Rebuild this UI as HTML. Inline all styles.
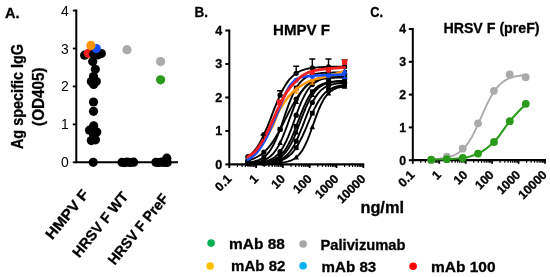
<!DOCTYPE html>
<html><head><meta charset="utf-8"><title>Figure</title>
<style>html,body{margin:0;padding:0;background:#fff}svg{display:block}</style></head>
<body><svg width="550" height="277" viewBox="0 0 550 277" font-family="'Liberation Sans', sans-serif">
<rect width="550" height="277" fill="#fff"/>
<g stroke="#000" stroke-width="2" fill="none" stroke-linecap="butt">
<path d="M76.3 9.580000000000013 V162.3 H178"/>
<path d="M72.8 162.3 H76.3" stroke-width="1.8"/>
<path d="M72.8 124.37 H76.3" stroke-width="1.8"/>
<path d="M72.8 86.44000000000001 H76.3" stroke-width="1.8"/>
<path d="M72.8 48.51000000000002 H76.3" stroke-width="1.8"/>
<path d="M72.8 10.580000000000013 H76.3" stroke-width="1.8"/>
</g>
<text x="68.7" y="167.3" font-size="13.9" font-weight="normal" text-anchor="end" fill="#000">0</text>
<text x="68.7" y="129.37" font-size="13.9" font-weight="normal" text-anchor="end" fill="#000">1</text>
<text x="68.7" y="91.44000000000001" font-size="13.9" font-weight="normal" text-anchor="end" fill="#000">2</text>
<text x="68.7" y="53.51000000000002" font-size="13.9" font-weight="normal" text-anchor="end" fill="#000">3</text>
<text x="68.7" y="15.580000000000013" font-size="13.9" font-weight="normal" text-anchor="end" fill="#000">4</text>
<text x="5" y="17.6" font-size="15.4" font-weight="bold" text-anchor="start" fill="#000" stroke="#000" stroke-width="0.3" textLength="14.5" lengthAdjust="spacingAndGlyphs">A.</text>
<text x="22.8" y="96.5" font-size="15.6" font-weight="bold" text-anchor="middle" fill="#000" stroke="#000" stroke-width="0.3" transform="rotate(-90 22.8 96.5)" textLength="105.2" lengthAdjust="spacingAndGlyphs">Ag specific IgG</text>
<text x="44.5" y="96.6" font-size="15.6" font-weight="bold" text-anchor="middle" fill="#000" stroke="#000" stroke-width="0.3" transform="rotate(-90 44.5 96.6)" textLength="58.6" lengthAdjust="spacingAndGlyphs">(OD405)</text>
<text x="89.5" y="194.5" font-size="14.6" font-weight="bold" text-anchor="end" fill="#000" stroke="#000" stroke-width="0.3" transform="rotate(-51 89.5 194.5)" textLength="59" lengthAdjust="spacingAndGlyphs">HMPV F</text>
<text x="129" y="197" font-size="14.6" font-weight="bold" text-anchor="end" fill="#000" stroke="#000" stroke-width="0.3" transform="rotate(-51 129 197)" textLength="79" lengthAdjust="spacingAndGlyphs">HRSV F WT</text>
<text x="169.2" y="198.7" font-size="14.6" font-weight="bold" text-anchor="end" fill="#000" stroke="#000" stroke-width="0.3" transform="rotate(-51 169.2 198.7)" textLength="86.3" lengthAdjust="spacingAndGlyphs">HRSV F PreF</text>
<circle cx="84.6" cy="55.2" r="4.6" fill="#000"/>
<circle cx="88.4" cy="53.3" r="4.6" fill="#F51E1E"/>
<circle cx="101.3" cy="53.6" r="4.6" fill="#000"/>
<circle cx="93.7" cy="54.3" r="4.6" fill="#000"/>
<circle cx="97.5" cy="55" r="4.6" fill="#000"/>
<circle cx="92.7" cy="61.5" r="4.6" fill="#000"/>
<circle cx="95.3" cy="69.3" r="4.6" fill="#000"/>
<circle cx="93.5" cy="76.5" r="4.6" fill="#000"/>
<circle cx="91.3" cy="81.5" r="4.6" fill="#000"/>
<circle cx="96.3" cy="81.5" r="4.6" fill="#000"/>
<circle cx="93.7" cy="84.5" r="4.6" fill="#000"/>
<circle cx="93.5" cy="102" r="4.6" fill="#000"/>
<circle cx="93.5" cy="111.3" r="4.6" fill="#000"/>
<circle cx="93.7" cy="125.8" r="4.6" fill="#000"/>
<circle cx="89.5" cy="130.2" r="4.6" fill="#000"/>
<circle cx="96.8" cy="132" r="4.6" fill="#000"/>
<circle cx="93.6" cy="135.5" r="4.6" fill="#000"/>
<circle cx="91.3" cy="140.6" r="4.6" fill="#000"/>
<circle cx="95.5" cy="139.8" r="4.6" fill="#000"/>
<circle cx="93.2" cy="162.3" r="4.6" fill="#000"/>
<circle cx="96.3" cy="48.6" r="4.6" fill="#1450FF"/>
<circle cx="90.9" cy="45.4" r="4.6" fill="#FF9500"/>
<circle cx="122" cy="162.3" r="4.6" fill="#000"/>
<circle cx="124.5" cy="162.6" r="4.6" fill="#000"/>
<circle cx="127.2" cy="162.2" r="4.6" fill="#000"/>
<circle cx="130.3" cy="162.5" r="4.6" fill="#000"/>
<circle cx="133.6" cy="162.2" r="4.6" fill="#000"/>
<circle cx="155.9" cy="162.3" r="4.6" fill="#000"/>
<circle cx="158.6" cy="162.5" r="4.6" fill="#000"/>
<circle cx="161.5" cy="162.2" r="4.6" fill="#000"/>
<circle cx="164.5" cy="162.5" r="4.6" fill="#000"/>
<circle cx="167.2" cy="162.4" r="4.6" fill="#000"/>
<circle cx="166.8" cy="158.2" r="4.6" fill="#000"/>
<circle cx="127" cy="49.7" r="4.6" fill="#ABABAB"/>
<circle cx="160.6" cy="61.6" r="4.6" fill="#ABABAB"/>
<circle cx="160.6" cy="79.8" r="4.6" fill="#2A9A1A"/>
<g stroke="#000" stroke-width="2" fill="none">
<path d="M229.3 29.52000000000001 V165.4"/>
<path d="M225.3 164.4 H229.3"/>
<path d="M225.3 130.93 H229.3"/>
<path d="M225.3 97.46000000000001 H229.3"/>
<path d="M225.3 63.99000000000001 H229.3"/>
<path d="M225.3 30.52000000000001 H229.3"/>
</g>
<g stroke="#000" stroke-width="2.3" fill="none">
<path d="M228.3 164.4 H364.3"/>
</g>
<g stroke="#000" stroke-width="1" fill="none">
<path d="M229.3 164.4 v3.6" stroke-width="1.8"/>
<path d="M237.4 164.4 v2.5" stroke-width="1.2"/>
<path d="M242.1 164.4 v2.5" stroke-width="1.2"/>
<path d="M245.4 164.4 v2.5" stroke-width="1.2"/>
<path d="M248.0 164.4 v2.5" stroke-width="1.2"/>
<path d="M250.2 164.4 v2.5" stroke-width="1.2"/>
<path d="M251.9 164.4 v2.5" stroke-width="1.2"/>
<path d="M253.5 164.4 v2.5" stroke-width="1.2"/>
<path d="M254.9 164.4 v2.5" stroke-width="1.2"/>
<path d="M256.1 164.4 v3.6" stroke-width="1.8"/>
<path d="M264.2 164.4 v2.5" stroke-width="1.2"/>
<path d="M268.9 164.4 v2.5" stroke-width="1.2"/>
<path d="M272.2 164.4 v2.5" stroke-width="1.2"/>
<path d="M274.8 164.4 v2.5" stroke-width="1.2"/>
<path d="M277.0 164.4 v2.5" stroke-width="1.2"/>
<path d="M278.7 164.4 v2.5" stroke-width="1.2"/>
<path d="M280.3 164.4 v2.5" stroke-width="1.2"/>
<path d="M281.7 164.4 v2.5" stroke-width="1.2"/>
<path d="M282.9 164.4 v3.6" stroke-width="1.8"/>
<path d="M291.0 164.4 v2.5" stroke-width="1.2"/>
<path d="M295.7 164.4 v2.5" stroke-width="1.2"/>
<path d="M299.0 164.4 v2.5" stroke-width="1.2"/>
<path d="M301.6 164.4 v2.5" stroke-width="1.2"/>
<path d="M303.8 164.4 v2.5" stroke-width="1.2"/>
<path d="M305.5 164.4 v2.5" stroke-width="1.2"/>
<path d="M307.1 164.4 v2.5" stroke-width="1.2"/>
<path d="M308.5 164.4 v2.5" stroke-width="1.2"/>
<path d="M309.7 164.4 v3.6" stroke-width="1.8"/>
<path d="M317.8 164.4 v2.5" stroke-width="1.2"/>
<path d="M322.5 164.4 v2.5" stroke-width="1.2"/>
<path d="M325.8 164.4 v2.5" stroke-width="1.2"/>
<path d="M328.4 164.4 v2.5" stroke-width="1.2"/>
<path d="M330.6 164.4 v2.5" stroke-width="1.2"/>
<path d="M332.3 164.4 v2.5" stroke-width="1.2"/>
<path d="M333.9 164.4 v2.5" stroke-width="1.2"/>
<path d="M335.3 164.4 v2.5" stroke-width="1.2"/>
<path d="M336.5 164.4 v3.6" stroke-width="1.8"/>
<path d="M344.6 164.4 v2.5" stroke-width="1.2"/>
<path d="M349.3 164.4 v2.5" stroke-width="1.2"/>
<path d="M352.6 164.4 v2.5" stroke-width="1.2"/>
<path d="M355.2 164.4 v2.5" stroke-width="1.2"/>
<path d="M357.4 164.4 v2.5" stroke-width="1.2"/>
<path d="M359.1 164.4 v2.5" stroke-width="1.2"/>
<path d="M360.7 164.4 v2.5" stroke-width="1.2"/>
<path d="M362.1 164.4 v2.5" stroke-width="1.2"/>
<path d="M363.3 164.4 v3.6" stroke-width="1.8"/>
</g>
<text x="222.3" y="168.9" font-size="12.6" font-weight="bold" text-anchor="end" fill="#000" stroke="#000" stroke-width="0.3">0</text>
<text x="222.3" y="135.43" font-size="12.6" font-weight="bold" text-anchor="end" fill="#000" stroke="#000" stroke-width="0.3">1</text>
<text x="222.3" y="101.96000000000001" font-size="12.6" font-weight="bold" text-anchor="end" fill="#000" stroke="#000" stroke-width="0.3">2</text>
<text x="222.3" y="68.49000000000001" font-size="12.6" font-weight="bold" text-anchor="end" fill="#000" stroke="#000" stroke-width="0.3">3</text>
<text x="222.3" y="35.02000000000001" font-size="12.6" font-weight="bold" text-anchor="end" fill="#000" stroke="#000" stroke-width="0.3">4</text>
<text x="232.3" y="179.70000000000002" font-size="12.4" font-weight="bold" text-anchor="end" fill="#000" stroke="#000" stroke-width="0.3" transform="rotate(-45 232.3 179.70000000000002)">0.1</text>
<text x="259.1" y="179.70000000000002" font-size="12.4" font-weight="bold" text-anchor="end" fill="#000" stroke="#000" stroke-width="0.3" transform="rotate(-45 259.1 179.70000000000002)">1</text>
<text x="285.90000000000003" y="179.70000000000002" font-size="12.4" font-weight="bold" text-anchor="end" fill="#000" stroke="#000" stroke-width="0.3" transform="rotate(-45 285.90000000000003 179.70000000000002)">10</text>
<text x="312.70000000000005" y="179.70000000000002" font-size="12.4" font-weight="bold" text-anchor="end" fill="#000" stroke="#000" stroke-width="0.3" transform="rotate(-45 312.70000000000005 179.70000000000002)">100</text>
<text x="339.5" y="179.70000000000002" font-size="12.4" font-weight="bold" text-anchor="end" fill="#000" stroke="#000" stroke-width="0.3" transform="rotate(-45 339.5 179.70000000000002)">1000</text>
<text x="366.3" y="179.70000000000002" font-size="12.4" font-weight="bold" text-anchor="end" fill="#000" stroke="#000" stroke-width="0.3" transform="rotate(-45 366.3 179.70000000000002)">10000</text>
<text x="194.5" y="17.1" font-size="15.2" font-weight="bold" text-anchor="start" fill="#000" stroke="#000" stroke-width="0.3" textLength="13.5" lengthAdjust="spacingAndGlyphs">B.</text>
<text x="273" y="35.4" font-size="15" font-weight="bold" text-anchor="start" fill="#000" stroke="#000" stroke-width="0.3" textLength="57" lengthAdjust="spacingAndGlyphs">HMPV F</text>
<path d="M247.8 160.4 L249.4 160.0 L251.0 159.5 L252.6 158.9 L254.3 158.3 L255.9 157.5 L257.5 156.7 L259.1 155.7 L260.7 154.7 L262.3 153.5 L263.9 152.1 L265.5 150.6 L267.2 149.0 L268.8 147.1 L270.4 145.1 L272.0 142.9 L273.6 140.6 L275.2 138.0 L276.8 135.3 L278.5 132.5 L280.1 129.5 L281.7 126.4 L283.3 123.3 L284.9 120.1 L286.5 116.9 L288.1 113.7 L289.7 110.5 L291.4 107.4 L293.0 104.5 L294.6 101.7 L296.2 99.0 L297.8 96.5 L299.4 94.1 L301.0 92.0 L302.7 90.0 L304.3 88.2 L305.9 86.6 L307.5 85.1 L309.1 83.8 L310.7 82.6 L312.3 81.5 L314.0 80.6 L315.6 79.8 L317.2 79.0 L318.8 78.4 L320.4 77.8 L322.0 77.4 L323.6 76.9 L325.2 76.5 L326.9 76.2 L328.5 75.9 L330.1 75.7 L331.7 75.5 L333.3 75.3 L334.9 75.1 L336.5 75.0 L338.2 74.8 L339.8 74.7 L341.4 74.6 L343.0 74.6 L344.6 74.5" fill="none" stroke="#000" stroke-width="1.9" stroke-linejoin="round"/>
<circle cx="247.8" cy="160.4" r="2.6" fill="#000"/>
<circle cx="263.9" cy="152.1" r="2.6" fill="#000"/>
<circle cx="280.1" cy="129.5" r="2.6" fill="#000"/>
<circle cx="296.2" cy="99.0" r="2.6" fill="#000"/>
<circle cx="312.3" cy="81.5" r="2.6" fill="#000"/>
<circle cx="328.5" cy="75.9" r="2.6" fill="#000"/>
<circle cx="344.6" cy="74.5" r="2.6" fill="#000"/>
<path d="M247.8 162.5 L249.4 162.4 L251.0 162.1 L252.6 161.8 L254.3 161.5 L255.9 161.0 L257.5 160.5 L259.1 159.9 L260.7 159.1 L262.3 158.2 L263.9 157.0 L265.5 155.7 L267.2 154.1 L268.8 152.2 L270.4 150.0 L272.0 147.4 L273.6 144.5 L275.2 141.2 L276.8 137.5 L278.5 133.5 L280.1 129.2 L281.7 124.7 L283.3 120.0 L284.9 115.2 L286.5 110.6 L288.1 106.1 L289.7 101.8 L291.4 97.8 L293.0 94.2 L294.6 90.9 L296.2 88.0 L297.8 85.5 L299.4 83.3 L301.0 81.5 L302.7 79.9 L304.3 78.6 L305.9 77.5 L307.5 76.6 L309.1 75.8 L310.7 75.2 L312.3 74.7 L314.0 74.2 L315.6 73.9 L317.2 73.6 L318.8 73.4 L320.4 73.2 L322.0 73.0 L323.6 72.9 L325.2 72.8 L326.9 72.7 L328.5 72.7 L330.1 72.6 L331.7 72.6 L333.3 72.5 L334.9 72.5 L336.5 72.5 L338.2 72.4 L339.8 72.4 L341.4 72.4 L343.0 72.4 L344.6 72.4" fill="none" stroke="#000" stroke-width="1.9" stroke-linejoin="round"/>
<rect x="245.4" y="160.1" width="4.8" height="4.8" fill="#000"/>
<rect x="261.5" y="154.6" width="4.8" height="4.8" fill="#000"/>
<rect x="277.7" y="126.8" width="4.8" height="4.8" fill="#000"/>
<rect x="293.8" y="85.6" width="4.8" height="4.8" fill="#000"/>
<rect x="309.9" y="72.3" width="4.8" height="4.8" fill="#000"/>
<rect x="326.1" y="70.3" width="4.8" height="4.8" fill="#000"/>
<rect x="342.2" y="70.0" width="4.8" height="4.8" fill="#000"/>
<path d="M247.8 163.0 L249.4 162.9 L251.0 162.8 L252.6 162.6 L254.3 162.4 L255.9 162.2 L257.5 162.0 L259.1 161.6 L260.7 161.2 L262.3 160.7 L263.9 160.2 L265.5 159.4 L267.2 158.6 L268.8 157.5 L270.4 156.3 L272.0 154.8 L273.6 153.1 L275.2 151.0 L276.8 148.7 L278.5 146.0 L280.1 142.9 L281.7 139.5 L283.3 135.7 L284.9 131.7 L286.5 127.4 L288.1 123.0 L289.7 118.5 L291.4 114.1 L293.0 109.8 L294.6 105.7 L296.2 101.9 L297.8 98.4 L299.4 95.3 L301.0 92.5 L302.7 90.1 L304.3 88.0 L305.9 86.2 L307.5 84.7 L309.1 83.4 L310.7 82.4 L312.3 81.5 L314.0 80.7 L315.6 80.1 L317.2 79.6 L318.8 79.2 L320.4 78.9 L322.0 78.6 L323.6 78.4 L325.2 78.2 L326.9 78.0 L328.5 77.9 L330.1 77.8 L331.7 77.7 L333.3 77.7 L334.9 77.6 L336.5 77.6 L338.2 77.5 L339.8 77.5 L341.4 77.5 L343.0 77.5 L344.6 77.4" fill="none" stroke="#000" stroke-width="1.9" stroke-linejoin="round"/>
<path d="M245.0 165.2 L250.6 165.2 L247.8 160.2 Z" fill="#000"/>
<path d="M261.1 162.4 L266.7 162.4 L263.9 157.4 Z" fill="#000"/>
<path d="M277.3 145.1 L282.9 145.1 L280.1 140.1 Z" fill="#000"/>
<path d="M293.4 104.1 L299.0 104.1 L296.2 99.1 Z" fill="#000"/>
<path d="M309.5 83.7 L315.1 83.7 L312.3 78.7 Z" fill="#000"/>
<path d="M325.7 80.1 L331.3 80.1 L328.5 75.1 Z" fill="#000"/>
<path d="M341.8 79.6 L347.4 79.6 L344.6 74.6 Z" fill="#000"/>
<path d="M247.8 163.2 L249.4 163.1 L251.0 163.1 L252.6 163.0 L254.3 162.9 L255.9 162.8 L257.5 162.7 L259.1 162.5 L260.7 162.3 L262.3 162.0 L263.9 161.7 L265.5 161.4 L267.2 160.9 L268.8 160.3 L270.4 159.7 L272.0 158.9 L273.6 157.9 L275.2 156.7 L276.8 155.3 L278.5 153.6 L280.1 151.7 L281.7 149.4 L283.3 146.8 L284.9 143.8 L286.5 140.5 L288.1 136.8 L289.7 132.8 L291.4 128.6 L293.0 124.2 L294.6 119.7 L296.2 115.2 L297.8 110.8 L299.4 106.6 L301.0 102.7 L302.7 99.1 L304.3 95.8 L305.9 92.9 L307.5 90.3 L309.1 88.1 L310.7 86.2 L312.3 84.6 L314.0 83.2 L315.6 82.1 L317.2 81.1 L318.8 80.3 L320.4 79.7 L322.0 79.1 L323.6 78.7 L325.2 78.3 L326.9 78.0 L328.5 77.8 L330.1 77.6 L331.7 77.4 L333.3 77.3 L334.9 77.2 L336.5 77.1 L338.2 77.0 L339.8 77.0 L341.4 76.9 L343.0 76.9 L344.6 76.8" fill="none" stroke="#000" stroke-width="1.9" stroke-linejoin="round"/>
<circle cx="247.8" cy="163.2" r="2.6" fill="#000"/>
<circle cx="263.9" cy="161.7" r="2.6" fill="#000"/>
<circle cx="280.1" cy="151.7" r="2.6" fill="#000"/>
<circle cx="296.2" cy="115.2" r="2.6" fill="#000"/>
<circle cx="312.3" cy="84.6" r="2.6" fill="#000"/>
<circle cx="328.5" cy="77.8" r="2.6" fill="#000"/>
<circle cx="344.6" cy="76.8" r="2.6" fill="#000"/>
<path d="M247.8 163.3 L249.4 163.2 L251.0 163.2 L252.6 163.2 L254.3 163.1 L255.9 163.0 L257.5 162.9 L259.1 162.8 L260.7 162.7 L262.3 162.6 L263.9 162.4 L265.5 162.1 L267.2 161.8 L268.8 161.5 L270.4 161.1 L272.0 160.5 L273.6 159.9 L275.2 159.1 L276.8 158.2 L278.5 157.1 L280.1 155.8 L281.7 154.2 L283.3 152.4 L284.9 150.2 L286.5 147.7 L288.1 144.9 L289.7 141.8 L291.4 138.3 L293.0 134.5 L294.6 130.5 L296.2 126.3 L297.8 122.0 L299.4 117.8 L301.0 113.6 L302.7 109.6 L304.3 105.8 L305.9 102.3 L307.5 99.2 L309.1 96.3 L310.7 93.9 L312.3 91.7 L314.0 89.9 L315.6 88.3 L317.2 87.0 L318.8 85.9 L320.4 85.0 L322.0 84.2 L323.6 83.6 L325.2 83.1 L326.9 82.6 L328.5 82.3 L330.1 82.0 L331.7 81.8 L333.3 81.6 L334.9 81.4 L336.5 81.3 L338.2 81.2 L339.8 81.1 L341.4 81.0 L343.0 81.0 L344.6 80.9" fill="none" stroke="#000" stroke-width="1.9" stroke-linejoin="round"/>
<rect x="245.4" y="160.9" width="4.8" height="4.8" fill="#000"/>
<rect x="261.5" y="160.0" width="4.8" height="4.8" fill="#000"/>
<rect x="277.7" y="153.4" width="4.8" height="4.8" fill="#000"/>
<rect x="293.8" y="123.9" width="4.8" height="4.8" fill="#000"/>
<rect x="309.9" y="89.3" width="4.8" height="4.8" fill="#000"/>
<rect x="326.1" y="79.9" width="4.8" height="4.8" fill="#000"/>
<rect x="342.2" y="78.5" width="4.8" height="4.8" fill="#000"/>
<path d="M247.8 163.3 L249.4 163.3 L251.0 163.2 L252.6 163.2 L254.3 163.2 L255.9 163.1 L257.5 163.1 L259.1 163.0 L260.7 162.9 L262.3 162.8 L263.9 162.6 L265.5 162.4 L267.2 162.2 L268.8 162.0 L270.4 161.6 L272.0 161.3 L273.6 160.8 L275.2 160.2 L276.8 159.5 L278.5 158.6 L280.1 157.6 L281.7 156.4 L283.3 154.9 L284.9 153.2 L286.5 151.2 L288.1 148.9 L289.7 146.2 L291.4 143.2 L293.0 139.9 L294.6 136.3 L296.2 132.3 L297.8 128.2 L299.4 124.0 L301.0 119.7 L302.7 115.4 L304.3 111.3 L305.9 107.4 L307.5 103.8 L309.1 100.5 L310.7 97.6 L312.3 94.9 L314.0 92.7 L315.6 90.7 L317.2 89.0 L318.8 87.6 L320.4 86.4 L322.0 85.4 L323.6 84.5 L325.2 83.9 L326.9 83.3 L328.5 82.8 L330.1 82.4 L331.7 82.1 L333.3 81.9 L334.9 81.6 L336.5 81.5 L338.2 81.3 L339.8 81.2 L341.4 81.1 L343.0 81.1 L344.6 81.0" fill="none" stroke="#000" stroke-width="1.9" stroke-linejoin="round"/>
<path d="M245.0 165.5 L250.6 165.5 L247.8 160.5 Z" fill="#000"/>
<path d="M261.1 164.8 L266.7 164.8 L263.9 159.8 Z" fill="#000"/>
<path d="M277.3 159.8 L282.9 159.8 L280.1 154.8 Z" fill="#000"/>
<path d="M293.4 134.5 L299.0 134.5 L296.2 129.5 Z" fill="#000"/>
<path d="M309.5 97.1 L315.1 97.1 L312.3 92.1 Z" fill="#000"/>
<path d="M325.7 85.0 L331.3 85.0 L328.5 80.0 Z" fill="#000"/>
<path d="M341.8 83.2 L347.4 83.2 L344.6 78.2 Z" fill="#000"/>
<path d="M247.8 163.3 L249.4 163.3 L251.0 163.3 L252.6 163.3 L254.3 163.3 L255.9 163.2 L257.5 163.2 L259.1 163.1 L260.7 163.1 L262.3 163.0 L263.9 162.9 L265.5 162.8 L267.2 162.7 L268.8 162.5 L270.4 162.3 L272.0 162.1 L273.6 161.8 L275.2 161.4 L276.8 160.9 L278.5 160.4 L280.1 159.7 L281.7 158.9 L283.3 158.0 L284.9 156.8 L286.5 155.5 L288.1 153.9 L289.7 152.0 L291.4 149.8 L293.0 147.2 L294.6 144.4 L296.2 141.2 L297.8 137.7 L299.4 133.9 L301.0 129.9 L302.7 125.8 L304.3 121.6 L305.9 117.4 L307.5 113.3 L309.1 109.4 L310.7 105.8 L312.3 102.5 L314.0 99.6 L315.6 96.9 L317.2 94.6 L318.8 92.6 L320.4 90.9 L322.0 89.4 L323.6 88.2 L325.2 87.2 L326.9 86.3 L328.5 85.6 L330.1 85.0 L331.7 84.5 L333.3 84.2 L334.9 83.8 L336.5 83.6 L338.2 83.3 L339.8 83.2 L341.4 83.0 L343.0 82.9 L344.6 82.8" fill="none" stroke="#000" stroke-width="1.9" stroke-linejoin="round"/>
<circle cx="247.8" cy="163.3" r="2.6" fill="#000"/>
<circle cx="263.9" cy="162.9" r="2.6" fill="#000"/>
<circle cx="280.1" cy="159.7" r="2.6" fill="#000"/>
<circle cx="296.2" cy="141.2" r="2.6" fill="#000"/>
<circle cx="312.3" cy="102.5" r="2.6" fill="#000"/>
<circle cx="328.5" cy="85.6" r="2.6" fill="#000"/>
<circle cx="344.6" cy="82.8" r="2.6" fill="#000"/>
<path d="M247.8 163.3 L249.4 163.3 L251.0 163.3 L252.6 163.3 L254.3 163.3 L255.9 163.2 L257.5 163.2 L259.1 163.2 L260.7 163.1 L262.3 163.1 L263.9 163.0 L265.5 162.9 L267.2 162.8 L268.8 162.7 L270.4 162.5 L272.0 162.3 L273.6 162.1 L275.2 161.9 L276.8 161.5 L278.5 161.1 L280.1 160.7 L281.7 160.1 L283.3 159.4 L284.9 158.6 L286.5 157.7 L288.1 156.6 L289.7 155.3 L291.4 153.8 L293.0 152.0 L294.6 150.0 L296.2 147.7 L297.8 145.1 L299.4 142.2 L301.0 139.0 L302.7 135.6 L304.3 132.0 L305.9 128.3 L307.5 124.5 L309.1 120.6 L310.7 116.8 L312.3 113.2 L314.0 109.7 L315.6 106.5 L317.2 103.5 L318.8 100.8 L320.4 98.4 L322.0 96.2 L323.6 94.4 L325.2 92.7 L326.9 91.4 L328.5 90.2 L330.1 89.2 L331.7 88.3 L333.3 87.6 L334.9 87.0 L336.5 86.5 L338.2 86.1 L339.8 85.7 L341.4 85.4 L343.0 85.2 L344.6 85.0" fill="none" stroke="#000" stroke-width="1.9" stroke-linejoin="round"/>
<rect x="245.4" y="160.9" width="4.8" height="4.8" fill="#000"/>
<rect x="261.5" y="160.6" width="4.8" height="4.8" fill="#000"/>
<rect x="277.7" y="158.3" width="4.8" height="4.8" fill="#000"/>
<rect x="293.8" y="145.3" width="4.8" height="4.8" fill="#000"/>
<rect x="309.9" y="110.8" width="4.8" height="4.8" fill="#000"/>
<rect x="326.1" y="87.8" width="4.8" height="4.8" fill="#000"/>
<rect x="342.2" y="82.6" width="4.8" height="4.8" fill="#000"/>
<path d="M247.8 163.4 L249.4 163.4 L251.0 163.4 L252.6 163.4 L254.3 163.4 L255.9 163.4 L257.5 163.4 L259.1 163.4 L260.7 163.4 L262.3 163.3 L263.9 163.3 L265.5 163.3 L267.2 163.3 L268.8 163.3 L270.4 163.2 L272.0 163.2 L273.6 163.2 L275.2 163.1 L276.8 163.0 L278.5 162.9 L280.1 162.8 L281.7 162.6 L283.3 162.4 L284.9 162.2 L286.5 161.8 L288.1 161.4 L289.7 160.9 L291.4 160.3 L293.0 159.5 L294.6 158.6 L296.2 157.4 L297.8 156.0 L299.4 154.2 L301.0 152.1 L302.7 149.7 L304.3 146.8 L305.9 143.5 L307.5 139.8 L309.1 135.8 L310.7 131.5 L312.3 127.0 L314.0 122.4 L315.6 117.9 L317.2 113.6 L318.8 109.5 L320.4 105.8 L322.0 102.5 L323.6 99.6 L325.2 97.1 L326.9 95.0 L328.5 93.3 L330.1 91.8 L331.7 90.6 L333.3 89.6 L334.9 88.9 L336.5 88.2 L338.2 87.7 L339.8 87.3 L341.4 87.0 L343.0 86.7 L344.6 86.5" fill="none" stroke="#000" stroke-width="1.9" stroke-linejoin="round"/>
<path d="M245.0 165.6 L250.6 165.6 L247.8 160.6 Z" fill="#000"/>
<path d="M261.1 165.5 L266.7 165.5 L263.9 160.5 Z" fill="#000"/>
<path d="M277.3 165.0 L282.9 165.0 L280.1 160.0 Z" fill="#000"/>
<path d="M293.4 159.6 L299.0 159.6 L296.2 154.6 Z" fill="#000"/>
<path d="M309.5 129.2 L315.1 129.2 L312.3 124.2 Z" fill="#000"/>
<path d="M325.7 95.5 L331.3 95.5 L328.5 90.5 Z" fill="#000"/>
<path d="M341.8 88.7 L347.4 88.7 L344.6 83.7 Z" fill="#000"/>
<path d="M247.8 156.7 L249.4 155.5 L251.0 154.1 L252.6 152.6 L254.3 150.8 L255.9 148.8 L257.5 146.5 L259.1 144.0 L260.7 141.1 L262.3 138.0 L263.9 134.6 L265.5 131.0 L267.2 127.2 L268.8 123.2 L270.4 119.1 L272.0 114.9 L273.6 110.7 L275.2 106.6 L276.8 102.6 L278.5 98.8 L280.1 95.2 L281.7 91.8 L283.3 88.7 L284.9 85.9 L286.5 83.4 L288.1 81.1 L289.7 79.1 L291.4 77.4 L293.0 75.8 L294.6 74.5 L296.2 73.3 L297.8 72.3 L299.4 71.5 L301.0 70.7 L302.7 70.1 L304.3 69.6 L305.9 69.1 L307.5 68.7 L309.1 68.4 L310.7 68.1 L312.3 67.9 L314.0 67.7 L315.6 67.6 L317.2 67.4 L318.8 67.3 L320.4 67.2 L322.0 67.1 L323.6 67.0 L325.2 67.0 L326.9 66.9 L328.5 66.9 L330.1 66.9 L331.7 66.8 L333.3 66.8 L334.9 66.8 L336.5 66.8 L338.2 66.7 L339.8 66.7 L341.4 66.7 L343.0 66.7 L344.6 66.7" fill="none" stroke="#000" stroke-width="1.9" stroke-linejoin="round"/>
<circle cx="247.8" cy="156.7" r="2.6" fill="#000"/>
<circle cx="263.9" cy="134.6" r="2.6" fill="#000"/>
<circle cx="280.1" cy="95.2" r="2.6" fill="#000"/>
<circle cx="296.2" cy="73.3" r="2.6" fill="#000"/>
<circle cx="312.3" cy="67.9" r="2.6" fill="#000"/>
<circle cx="328.5" cy="66.9" r="2.6" fill="#000"/>
<circle cx="344.6" cy="66.7" r="2.6" fill="#000"/>
<path d="M280.1 95.5 V90.8 M277.1 90.8 h6" stroke="#000" stroke-width="1.4" fill="none"/>
<path d="M296.2 73.4 V66.3 M293.2 66.3 h6" stroke="#000" stroke-width="1.4" fill="none"/>
<path d="M312.3 67.9 V59.0 M309.3 59.0 h6" stroke="#000" stroke-width="1.4" fill="none"/>
<path d="M328.5 66.9 V59.0 M325.5 59.0 h6" stroke="#000" stroke-width="1.4" fill="none"/>
<path d="M344.6 66.7 V60.0 M341.6 60.0 h6" stroke="#000" stroke-width="1.4" fill="none"/>
<path d="M247.8 158.0 C250.2 156.5 252.5 155.5 254.9 153.4 C257.9 150.7 260.9 145.5 263.9 141.0 C266.7 136.8 269.5 132.3 272.2 126.9 C274.8 121.8 277.5 113.0 280.1 108.8 C285.4 100.2 290.8 93.2 296.2 89.1 C301.6 85.0 307.0 81.9 312.3 80.1 C317.7 78.2 323.1 77.6 328.5 76.0 C333.9 74.5 339.2 72.5 344.6 70.7" fill="none" stroke="#FF9500" stroke-width="2.5" stroke-linecap="round"/>
<path d="M293.4 91.3 L299.0 91.3 L296.2 86.3 Z" fill="#FF9500"/>
<path d="M296.2 89.1 v4 M293.7 93.1 h5" stroke="#FF9500" stroke-width="1.3" fill="none"/>
<path d="M309.5 82.3 L315.1 82.3 L312.3 77.3 Z" fill="#FF9500"/>
<path d="M312.3 80.1 v4 M309.8 84.1 h5" stroke="#FF9500" stroke-width="1.3" fill="none"/>
<path d="M247.8 159.7 C250.2 158.0 252.5 156.9 254.9 154.7 C257.9 151.9 260.9 147.3 263.9 142.3 C266.7 137.7 269.5 131.0 272.2 124.9 C274.8 119.2 277.5 113.0 280.1 106.8 C282.3 101.6 284.6 95.1 286.8 90.8 C288.2 88.1 289.6 85.7 291.0 84.1 C292.7 82.1 294.5 80.4 296.2 79.4 C298.0 78.3 299.8 77.4 301.6 77.0 C305.2 76.4 308.8 75.9 312.3 75.7 C317.7 75.4 323.1 75.2 328.5 75.0 C333.9 74.9 339.2 74.8 344.6 74.7" fill="none" stroke="#1450FF" stroke-width="2.5" stroke-linecap="round"/>
<circle cx="296.2" cy="80.2" r="2.5" fill="#1450FF"/>
<circle cx="312.3" cy="76.5" r="2.5" fill="#1450FF"/>
<circle cx="328.5" cy="75.8" r="2.5" fill="#1450FF"/>
<path d="M344.6 70.7 V78.2 M341.8 78.2 h5.6" stroke="#1450FF" stroke-width="1.4" fill="none"/>
<path d="M341.6 73.7 L347.6 73.7 L344.6 68.2 Z" fill="#1450FF"/>
<path d="M247.8 156.7 C250.2 155.0 252.5 153.9 254.9 151.7 C257.9 148.8 260.9 143.7 263.9 138.6 C266.7 133.9 269.5 127.5 272.2 121.6 C274.8 116.0 277.5 109.3 280.1 104.2 C282.6 99.2 285.1 94.2 287.6 90.8 C290.5 86.8 293.3 83.8 296.2 81.1 C298.7 78.6 301.2 76.1 303.8 74.7 C306.6 73.1 309.5 71.6 312.3 71.0 C317.7 69.9 323.1 69.2 328.5 68.7 C333.9 68.1 339.2 67.8 344.6 67.3" fill="none" stroke="#F51E1E" stroke-width="2.8" stroke-linecap="round"/>
<circle cx="312.3" cy="72.5" r="2.6" fill="#F51E1E"/>
<circle cx="328.5" cy="70.2" r="2.6" fill="#F51E1E"/>
<path d="M263.1 139 V135 M260.6 135 h5" stroke="#000" stroke-width="1.3" fill="none"/>
<path d="M279.3 104 V100.2 M276.7 100.2 h5.2" stroke="#F51E1E" stroke-width="1.3" fill="none"/>
<rect x="277" y="100.5" width="4.6" height="4.4" fill="#F51E1E"/>
<rect x="342.0" y="59.3" width="5.2" height="5.6" fill="#F51E1E"/>
<g stroke="#000" stroke-width="2" fill="none">
<path d="M412.8 28.0 V161.2"/>
<path d="M408.8 160.2 H412.8"/>
<path d="M408.8 127.39999999999999 H412.8"/>
<path d="M408.8 94.6 H412.8"/>
<path d="M408.8 61.8 H412.8"/>
<path d="M408.8 29.0 H412.8"/>
</g>
<g stroke="#000" stroke-width="2.3" fill="none">
<path d="M411.8 160.2 H546"/>
</g>
<g stroke="#000" stroke-width="1" fill="none">
<path d="M412.8 160.2 v3.6" stroke-width="1.8"/>
<path d="M420.8 160.2 v2.5" stroke-width="1.2"/>
<path d="M425.4 160.2 v2.5" stroke-width="1.2"/>
<path d="M428.7 160.2 v2.5" stroke-width="1.2"/>
<path d="M431.3 160.2 v2.5" stroke-width="1.2"/>
<path d="M433.4 160.2 v2.5" stroke-width="1.2"/>
<path d="M435.2 160.2 v2.5" stroke-width="1.2"/>
<path d="M436.7 160.2 v2.5" stroke-width="1.2"/>
<path d="M438.0 160.2 v2.5" stroke-width="1.2"/>
<path d="M439.2 160.2 v3.6" stroke-width="1.8"/>
<path d="M447.2 160.2 v2.5" stroke-width="1.2"/>
<path d="M451.9 160.2 v2.5" stroke-width="1.2"/>
<path d="M455.2 160.2 v2.5" stroke-width="1.2"/>
<path d="M457.7 160.2 v2.5" stroke-width="1.2"/>
<path d="M459.8 160.2 v2.5" stroke-width="1.2"/>
<path d="M461.6 160.2 v2.5" stroke-width="1.2"/>
<path d="M463.1 160.2 v2.5" stroke-width="1.2"/>
<path d="M464.5 160.2 v2.5" stroke-width="1.2"/>
<path d="M465.7 160.2 v3.6" stroke-width="1.8"/>
<path d="M473.7 160.2 v2.5" stroke-width="1.2"/>
<path d="M478.3 160.2 v2.5" stroke-width="1.2"/>
<path d="M481.6 160.2 v2.5" stroke-width="1.2"/>
<path d="M484.2 160.2 v2.5" stroke-width="1.2"/>
<path d="M486.3 160.2 v2.5" stroke-width="1.2"/>
<path d="M488.1 160.2 v2.5" stroke-width="1.2"/>
<path d="M489.6 160.2 v2.5" stroke-width="1.2"/>
<path d="M490.9 160.2 v2.5" stroke-width="1.2"/>
<path d="M492.1 160.2 v3.6" stroke-width="1.8"/>
<path d="M500.1 160.2 v2.5" stroke-width="1.2"/>
<path d="M504.8 160.2 v2.5" stroke-width="1.2"/>
<path d="M508.1 160.2 v2.5" stroke-width="1.2"/>
<path d="M510.6 160.2 v2.5" stroke-width="1.2"/>
<path d="M512.7 160.2 v2.5" stroke-width="1.2"/>
<path d="M514.5 160.2 v2.5" stroke-width="1.2"/>
<path d="M516.0 160.2 v2.5" stroke-width="1.2"/>
<path d="M517.4 160.2 v2.5" stroke-width="1.2"/>
<path d="M518.6 160.2 v3.6" stroke-width="1.8"/>
<path d="M526.6 160.2 v2.5" stroke-width="1.2"/>
<path d="M531.2 160.2 v2.5" stroke-width="1.2"/>
<path d="M534.5 160.2 v2.5" stroke-width="1.2"/>
<path d="M537.1 160.2 v2.5" stroke-width="1.2"/>
<path d="M539.2 160.2 v2.5" stroke-width="1.2"/>
<path d="M541.0 160.2 v2.5" stroke-width="1.2"/>
<path d="M542.5 160.2 v2.5" stroke-width="1.2"/>
<path d="M543.8 160.2 v2.5" stroke-width="1.2"/>
<path d="M545.0 160.2 v3.6" stroke-width="1.8"/>
</g>
<text x="406.0" y="164.6" font-size="12.3" font-weight="bold" text-anchor="end" fill="#000" stroke="#000" stroke-width="0.3">0</text>
<text x="406.0" y="131.79999999999998" font-size="12.3" font-weight="bold" text-anchor="end" fill="#000" stroke="#000" stroke-width="0.3">1</text>
<text x="406.0" y="99.0" font-size="12.3" font-weight="bold" text-anchor="end" fill="#000" stroke="#000" stroke-width="0.3">2</text>
<text x="406.0" y="66.2" font-size="12.3" font-weight="bold" text-anchor="end" fill="#000" stroke="#000" stroke-width="0.3">3</text>
<text x="406.0" y="33.4" font-size="12.3" font-weight="bold" text-anchor="end" fill="#000" stroke="#000" stroke-width="0.3">4</text>
<text x="415.40000000000003" y="175.5" font-size="12.4" font-weight="bold" text-anchor="end" fill="#000" stroke="#000" stroke-width="0.3" transform="rotate(-45 415.40000000000003 175.5)">0.1</text>
<text x="441.85" y="175.5" font-size="12.4" font-weight="bold" text-anchor="end" fill="#000" stroke="#000" stroke-width="0.3" transform="rotate(-45 441.85 175.5)">1</text>
<text x="468.3" y="175.5" font-size="12.4" font-weight="bold" text-anchor="end" fill="#000" stroke="#000" stroke-width="0.3" transform="rotate(-45 468.3 175.5)">10</text>
<text x="494.75" y="175.5" font-size="12.4" font-weight="bold" text-anchor="end" fill="#000" stroke="#000" stroke-width="0.3" transform="rotate(-45 494.75 175.5)">100</text>
<text x="521.2" y="175.5" font-size="12.4" font-weight="bold" text-anchor="end" fill="#000" stroke="#000" stroke-width="0.3" transform="rotate(-45 521.2 175.5)">1000</text>
<text x="547.65" y="175.5" font-size="12.4" font-weight="bold" text-anchor="end" fill="#000" stroke="#000" stroke-width="0.3" transform="rotate(-45 547.65 175.5)">10000</text>
<text x="370.2" y="16.6" font-size="15.2" font-weight="bold" text-anchor="start" fill="#000" stroke="#000" stroke-width="0.3" textLength="12.8" lengthAdjust="spacingAndGlyphs">C.</text>
<text x="443.4" y="33.3" font-size="15" font-weight="bold" text-anchor="start" fill="#000" stroke="#000" stroke-width="0.3" textLength="96.2" lengthAdjust="spacingAndGlyphs">HRSV F (preF)</text>
<path d="M431.2 159.2 L432.8 159.1 L434.3 159.0 L435.9 158.9 L437.5 158.8 L439.1 158.6 L440.6 158.5 L442.2 158.3 L443.8 158.1 L445.4 157.8 L446.9 157.5 L448.5 157.1 L450.1 156.7 L451.7 156.2 L453.2 155.6 L454.8 154.9 L456.4 154.1 L458.0 153.1 L459.6 152.0 L461.1 150.8 L462.7 149.4 L464.3 147.8 L465.9 145.9 L467.4 143.9 L469.0 141.6 L470.6 139.1 L472.2 136.4 L473.7 133.4 L475.3 130.2 L476.9 126.9 L478.5 123.5 L480.0 119.9 L481.6 116.3 L483.2 112.7 L484.8 109.2 L486.3 105.7 L487.9 102.5 L489.5 99.4 L491.1 96.5 L492.6 93.8 L494.2 91.4 L495.8 89.2 L497.4 87.2 L498.9 85.5 L500.5 83.9 L502.1 82.6 L503.7 81.4 L505.2 80.4 L506.8 79.5 L508.4 78.7 L510.0 78.0 L511.5 77.5 L513.1 77.0 L514.7 76.6 L516.2 76.2 L517.8 75.9 L519.4 75.7 L521.0 75.5 L522.6 75.3 L524.1 75.1 L525.7 75.0" fill="none" stroke="#ABABAB" stroke-width="1.9" stroke-linejoin="round"/>
<circle cx="431.2" cy="159.9" r="3.9" fill="#ABABAB"/>
<circle cx="446.9" cy="156.6" r="3.9" fill="#ABABAB"/>
<circle cx="462.7" cy="148.7" r="3.9" fill="#ABABAB"/>
<circle cx="478" cy="123.3" r="3.9" fill="#ABABAB"/>
<circle cx="493.9" cy="90.8" r="3.9" fill="#ABABAB"/>
<circle cx="509.7" cy="74.5" r="3.9" fill="#ABABAB"/>
<circle cx="525.7" cy="77.2" r="3.9" fill="#ABABAB"/>
<path d="M431.2 159.7 C436.4 159.5 441.6 159.4 446.8 159.2 C452.1 159.0 457.4 158.6 462.7 158.0 C467.8 157.4 472.9 155.7 478.0 153.6 C483.3 151.4 488.7 147.0 494.0 142.0 C499.3 137.1 504.5 127.5 509.8 121.2 C515.1 114.8 520.5 109.6 525.8 103.8" fill="none" stroke="#2A9A1A" stroke-width="2"/>
<circle cx="431.2" cy="159.7" r="3.9" fill="#2A9A1A"/>
<circle cx="446.8" cy="159.2" r="3.9" fill="#2A9A1A"/>
<circle cx="462.7" cy="158" r="3.9" fill="#2A9A1A"/>
<circle cx="478" cy="153.6" r="3.9" fill="#2A9A1A"/>
<circle cx="494" cy="142" r="3.9" fill="#2A9A1A"/>
<circle cx="509.8" cy="121.2" r="3.9" fill="#2A9A1A"/>
<circle cx="525.8" cy="103.8" r="3.9" fill="#2A9A1A"/>
<text x="360.4" y="212.5" font-size="16" font-weight="bold" text-anchor="start" fill="#000" stroke="#000" stroke-width="0.3" textLength="43.6" lengthAdjust="spacingAndGlyphs">ng/ml</text>
<circle cx="211.1" cy="243.1" r="3.8" fill="#00B050"/>
<text x="229.1" y="249.2" font-size="15" font-weight="bold" text-anchor="start" fill="#000" stroke="#000" stroke-width="0.3" textLength="55.7" lengthAdjust="spacingAndGlyphs">mAb 88</text>
<circle cx="303.1" cy="244" r="3.8" fill="#A6A6A6"/>
<text x="320.5" y="249.5" font-size="15" font-weight="bold" text-anchor="start" fill="#000" stroke="#000" stroke-width="0.3" textLength="85" lengthAdjust="spacingAndGlyphs">Palivizumab</text>
<circle cx="210.1" cy="266" r="3.8" fill="#FFC000"/>
<text x="231.1" y="271.3" font-size="15" font-weight="bold" text-anchor="start" fill="#000" stroke="#000" stroke-width="0.3" textLength="54.3" lengthAdjust="spacingAndGlyphs">mAb 82</text>
<circle cx="303.1" cy="265.8" r="3.8" fill="#00B0F0"/>
<text x="321.6" y="271.9" font-size="15" font-weight="bold" text-anchor="start" fill="#000" stroke="#000" stroke-width="0.3" textLength="54.6" lengthAdjust="spacingAndGlyphs">mAb 83</text>
<circle cx="413.1" cy="266.2" r="3.8" fill="#FF0000"/>
<text x="431" y="271.6" font-size="15" font-weight="bold" text-anchor="start" fill="#000" stroke="#000" stroke-width="0.3" textLength="64.6" lengthAdjust="spacingAndGlyphs">mAb 100</text>
</svg></body></html>
